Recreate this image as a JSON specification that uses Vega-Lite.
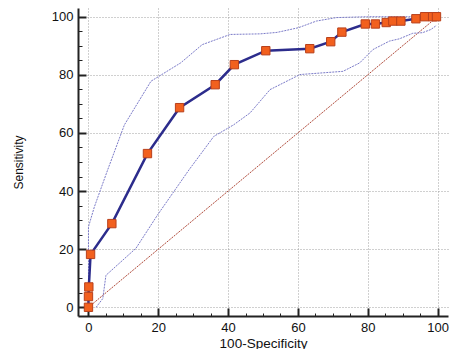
{
  "$schema": "https://vega.github.io/schema/vega-lite/v6.json",
  "width": 370,
  "height": 308,
  "autosize": "none",
  "padding": {"left": 78, "top": 8, "right": 26, "bottom": 33},
  "background": "white",
  "config": {
    "view": {"stroke": null},
    "axis": {"labelFont": "Liberation Sans", "titleFont": "Liberation Sans", "labelColor": "#111", "titleColor": "#111", "titleFontWeight": "normal"}
  },
  "datasets": {
    "roc": [
      {"x": 0, "y": 0}, {"x": 0, "y": 3.7}, {"x": 0.1, "y": 7.0}, {"x": 0.6, "y": 18.2},
      {"x": 6.7, "y": 28.8}, {"x": 16.9, "y": 52.9}, {"x": 26.1, "y": 68.7}, {"x": 36.3, "y": 76.6},
      {"x": 41.8, "y": 83.5}, {"x": 50.8, "y": 88.3}, {"x": 63.4, "y": 89.0}, {"x": 69.4, "y": 91.4},
      {"x": 72.6, "y": 94.7}, {"x": 79.3, "y": 97.5}, {"x": 82.2, "y": 97.5}, {"x": 85.3, "y": 98.0},
      {"x": 87.2, "y": 98.5}, {"x": 89.5, "y": 98.5}, {"x": 93.8, "y": 99.3}, {"x": 96.3, "y": 100},
      {"x": 98.6, "y": 100}, {"x": 99.7, "y": 100}
    ],
    "upper": [
      {"x": 0, "y": 0}, {"x": 0, "y": 27.7}, {"x": 1.7, "y": 34.6}, {"x": 5.5, "y": 47.3},
      {"x": 10.3, "y": 62.8}, {"x": 17.9, "y": 77.8}, {"x": 26.4, "y": 84.1}, {"x": 32.6, "y": 90.4},
      {"x": 40.6, "y": 93.9}, {"x": 49.2, "y": 94.1}, {"x": 54, "y": 94.6}, {"x": 60.1, "y": 96.2},
      {"x": 65.3, "y": 98.5}, {"x": 71, "y": 99.7}, {"x": 80, "y": 100}, {"x": 100, "y": 100}
    ],
    "lower": [
      {"x": 2.2, "y": 0}, {"x": 4.1, "y": 3}, {"x": 5, "y": 11}, {"x": 13.6, "y": 20.3},
      {"x": 19.8, "y": 31.8}, {"x": 28.8, "y": 47.3}, {"x": 35.9, "y": 58.8}, {"x": 41.6, "y": 62.8},
      {"x": 46.3, "y": 66.9}, {"x": 52, "y": 74.9}, {"x": 60.6, "y": 80.1}, {"x": 72.9, "y": 81.2},
      {"x": 77.7, "y": 84.1}, {"x": 81.5, "y": 88.7}, {"x": 86.2, "y": 91.6}, {"x": 89.1, "y": 92.4},
      {"x": 92.9, "y": 94.3}, {"x": 95.7, "y": 94.5}, {"x": 98.1, "y": 95.6}, {"x": 99.7, "y": 97}
    ],
    "diag": [{"x": 0, "y": 0}, {"x": 100, "y": 100}]
  },
  "encoding": {
    "x": {
      "field": "x", "type": "quantitative",
      "scale": {"domain": [-3, 103], "nice": false, "zero": false},
      "axis": {
        "title": "100-Specificity", "titleFontSize": 13.5, "titlePadding": 2,
        "values": [0,5,10,15,20,25,30,35,40,45,50,55,60,65,70,75,80,85,90,95,100],
        "labelExpr": "datum.value % 20 === 0 ? datum.label : ''",
        "labelFontSize": 13, "labelPadding": 13,
        "domainColor": "#222", "domainWidth": 2,
        "tickColor": "#222", "tickWidth": {"condition": {"test": "datum.value % 20 === 0", "value": 2}, "value": 1},
        "tickSize": {"condition": {"test": "datum.value % 20 === 0", "value": -8}, "value": -3},
        "grid": true, "gridColor": "#a0a0a0", "gridDash": [1, 2], "gridWidth": 1,
        "gridOpacity": {"condition": {"test": "datum.value % 20 === 0", "value": 1}, "value": 0}
      }
    },
    "y": {
      "field": "y", "type": "quantitative",
      "scale": {"domain": [-3, 103], "nice": false, "zero": false},
      "axis": {
        "title": "Sensitivity", "titleFontSize": 12, "titlePadding": 26,
        "values": [0,5,10,15,20,25,30,35,40,45,50,55,60,65,70,75,80,85,90,95,100],
        "labelExpr": "datum.value % 20 === 0 ? datum.label : ''",
        "labelFontSize": 13, "labelPadding": 13,
        "domainColor": "#222", "domainWidth": 2,
        "tickColor": "#222", "tickWidth": {"condition": {"test": "datum.value % 20 === 0", "value": 2}, "value": 1},
        "tickSize": {"condition": {"test": "datum.value % 20 === 0", "value": -8}, "value": -4},
        "grid": true, "gridColor": "#a0a0a0", "gridDash": [1, 2], "gridWidth": 1,
        "gridOpacity": {"condition": {"test": "datum.value % 20 === 0", "value": 1}, "value": 0}
      }
    }
  },
  "layer": [
    {"data": {"name": "diag"}, "mark": {"type": "line", "color": "#b04a3a", "strokeWidth": 1, "strokeDash": [2, 1]}},
    {"data": {"name": "upper"}, "mark": {"type": "line", "color": "#7a7ac8", "strokeWidth": 1, "strokeDash": [2, 1]}},
    {"data": {"name": "lower"}, "mark": {"type": "line", "color": "#7a7ac8", "strokeWidth": 1, "strokeDash": [2, 1]}},
    {"data": {"name": "roc"}, "mark": {"type": "line", "color": "#2c2c8c", "strokeWidth": 2.5}},
    {"data": {"name": "roc"}, "mark": {"type": "point", "shape": "square", "filled": true, "size": 70, "color": "#f2601e", "stroke": "#b8401c", "strokeWidth": 1, "opacity": 1}}
  ]
}
